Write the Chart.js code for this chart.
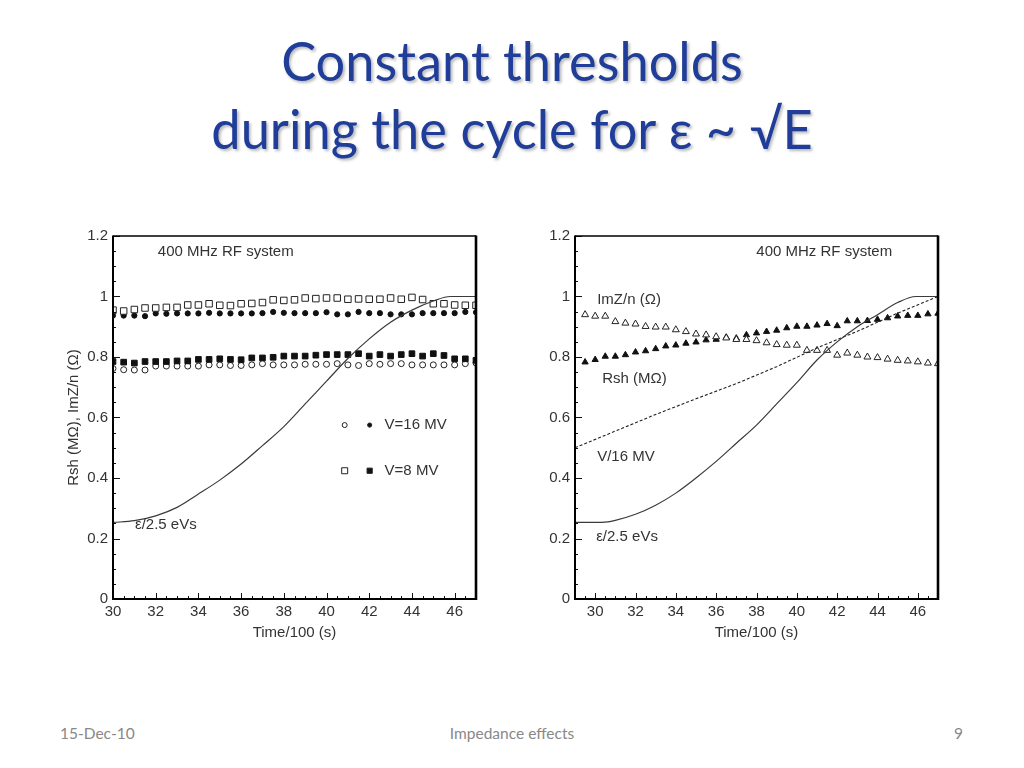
<!DOCTYPE html>
<html><head><meta charset="utf-8">
<script src="https://cdn.jsdelivr.net/npm/chart.js@4.4.1/dist/chart.umd.min.js"></script>
<style>
html,body{margin:0;padding:0;background:#fff;}
body{width:1024px;height:768px;position:relative;overflow:hidden;font-family:Lato,"Open Sans",sans-serif;}
.t{position:absolute;left:0;width:1024px;text-align:center;color:#203e99;font-size:54px;line-height:54px;white-space:nowrap;text-shadow:2px 2px 3px rgba(0,0,0,0.28);}
.t span{display:inline-block;transform:scaleX(0.97);}
.f{position:absolute;top:723px;font-size:15.5px;color:#888;line-height:20px;}
canvas{position:absolute;}
</style></head>
<body>
<div class="t" style="top:34px"><span>Constant thresholds</span></div>
<div class="t" style="top:102px"><span>during the cycle for ε ~ √E</span></div>
<div class="f" style="left:60px">15-Dec-10</div>
<div class="f" style="left:0;width:1024px;text-align:center">Impedance effects</div>
<div class="f" style="left:954px">9</div>
<canvas id="chartL" width="432" height="424" style="left:58px;top:222px"></canvas>
<canvas id="chartR" width="440" height="424" style="left:520px;top:222px"></canvas>
<script>
// ---------- data: left panel ----------
const timeL = [30,30.5,31,31.5,32,32.5,33,33.5,34,34.5,35,35.5,36,36.5,37,37.5,38,38.5,39,39.5,40,40.5,41,41.5,42,42.5,43,43.5,44,44.5,45,45.5,46,46.5,47];
const sqOpenL = [0.955,0.952,0.957,0.962,0.962,0.964,0.964,0.972,0.972,0.976,0.971,0.970,0.976,0.977,0.980,0.989,0.987,0.989,0.995,0.993,0.995,0.995,0.991,0.992,0.991,0.991,0.995,0.991,0.997,0.990,0.976,0.976,0.972,0.971,0.971];
const circFilledL = [0.937,0.937,0.937,0.935,0.944,0.943,0.944,0.944,0.944,0.946,0.944,0.944,0.944,0.944,0.945,0.949,0.946,0.945,0.945,0.945,0.948,0.941,0.941,0.949,0.945,0.945,0.941,0.941,0.941,0.945,0.945,0.945,0.945,0.949,0.948];
const sqFilledL = [0.785,0.783,0.780,0.785,0.785,0.785,0.787,0.787,0.792,0.792,0.794,0.792,0.791,0.797,0.797,0.799,0.803,0.803,0.803,0.806,0.808,0.808,0.808,0.811,0.803,0.808,0.803,0.808,0.811,0.803,0.811,0.805,0.794,0.794,0.789];
const circOpenL = [0.762,0.758,0.757,0.757,0.770,0.770,0.770,0.770,0.770,0.774,0.774,0.772,0.772,0.774,0.778,0.774,0.774,0.774,0.776,0.776,0.776,0.778,0.774,0.772,0.778,0.776,0.778,0.778,0.774,0.774,0.774,0.774,0.774,0.778,0.780];
const epsTimeL = [30,31,32,33,34,35,36,37,38,39,40,41,42,43,44,45,45.8,47];
const epsL = [0.253,0.259,0.275,0.303,0.347,0.393,0.446,0.507,0.570,0.645,0.720,0.795,0.860,0.915,0.955,0.985,1.0,1.0];

// ---------- data: right panel ----------
const timeR = [29.5,30,30.5,31,31.5,32,32.5,33,33.5,34,34.5,35,35.5,36,36.5,37,37.5,38,38.5,39,39.5,40,40.5,41,41.5,42,42.5,43,43.5,44,44.5,45,45.5,46,46.5,47];
const imzR = [0.940,0.935,0.935,0.917,0.912,0.909,0.901,0.899,0.899,0.890,0.884,0.876,0.873,0.867,0.863,0.858,0.858,0.854,0.847,0.841,0.839,0.839,0.822,0.822,0.822,0.806,0.813,0.806,0.800,0.798,0.793,0.789,0.787,0.784,0.780,0.778];
const rshR = [0.783,0.791,0.802,0.802,0.807,0.816,0.820,0.827,0.836,0.839,0.845,0.849,0.856,0.858,0.865,0.862,0.873,0.879,0.884,0.888,0.896,0.901,0.901,0.905,0.910,0.903,0.919,0.919,0.920,0.924,0.929,0.935,0.937,0.937,0.942,0.944];
const vTimeR = [29,31,33,35,37,39,41,43,45,47];
const vR = [0.500,0.555,0.610,0.662,0.712,0.768,0.830,0.885,0.945,1.000];
const epsTimeR = [29,30,30.5,31,32,33,34,35,36,37,38,39,40,41,42,43,44,45,45.9,47];
const epsR = [0.253,0.253,0.254,0.260,0.280,0.310,0.350,0.400,0.455,0.515,0.575,0.645,0.715,0.790,0.850,0.900,0.940,0.980,1.0,1.0];

// ---------- axes ----------
const xTicks = [30,32,34,36,38,40,42,44,46];
const yTicks = [0,0.2,0.4,0.6,0.8,1,1.2];
const yTickLabels = ['0','0.2','0.4','0.6','0.8','1','1.2'];

const FONT = '"Liberation Sans", Arial, sans-serif';
const TXT = '#333';

const pts = (xs, ys) => xs.map((v, i) => ({x: v, y: ys[i]}));

function drawMarker(ctx, style, px, py) {
  ctx.beginPath();
  if (style.shape === 'circle') ctx.arc(px, py, style.r, 0, Math.PI * 2);
  else ctx.rect(px - style.r, py - style.r, style.r * 2, style.r * 2);
  ctx.fillStyle = style.fill;
  ctx.fill();
  ctx.lineWidth = 1;
  ctx.strokeStyle = '#222';
  ctx.stroke();
}

const frame = {
  id: 'frame',
  afterDatasetsDraw(chart, args, o) {
    const {ctx, chartArea: a, scales: {x, y}} = chart;
    ctx.save();
    ctx.strokeStyle = '#111';
    ctx.lineWidth = 1;
    ctx.beginPath();
    for (let v = Math.ceil(x.min * 2) / 2; v <= x.max + 1e-9; v += 0.5) {
      const px = Math.round(x.getPixelForValue(v)) + 0.5;
      const major = Math.abs(v / 2 - Math.round(v / 2)) < 1e-9;
      ctx.moveTo(px, a.bottom);
      ctx.lineTo(px, a.bottom - (major ? 6 : 3));
    }
    for (let i = 0; i <= 24; i++) {
      const py = Math.round(y.getPixelForValue(i * 0.05)) + 0.5;
      ctx.moveTo(a.left, py);
      ctx.lineTo(a.left + (i % 4 === 0 ? 7 : 3), py);
    }
    ctx.stroke();
    ctx.strokeStyle = '#000';
    const seg = (w, x1, y1, x2, y2) => { ctx.lineWidth = w; ctx.beginPath(); ctx.moveTo(x1, y1); ctx.lineTo(x2, y2); ctx.stroke(); };
    seg(1.3, a.left, a.top, a.right, a.top);
    seg(2.6, a.right, a.top - 0.6, a.right, a.bottom + 1);
    seg(2, a.left, a.top - 0.6, a.left, a.bottom + 1);
    seg(2, a.left, a.bottom, a.right + 1, a.bottom);
    ctx.fillStyle = TXT;
    ctx.font = '15px ' + FONT;
    ctx.textBaseline = 'middle';
    ctx.textAlign = 'left';
    for (const t of o.labels) ctx.fillText(t.text, x.getPixelForValue(t.x), y.getPixelForValue(t.y));
    for (const k of (o.keys || [])) {
      const py = y.getPixelForValue(k.y);
      drawMarker(ctx, k.open, x.getPixelForValue(k.x1), py);
      drawMarker(ctx, k.filled, x.getPixelForValue(k.x2), py);
      ctx.fillStyle = TXT;
      ctx.fillText(k.text, x.getPixelForValue(k.x3), py);
    }
    ctx.restore();
  }
};

function scales(xmin, yWidth, yTitle) {
  return {
    x: {
      type: 'linear', min: xmin, max: 47,
      afterBuildTicks: s => { s.ticks = xTicks.map(v => ({value: v})); },
      afterFit: s => { s.height = 47; },
      grid: {display: false, drawTicks: false}, border: {display: false},
      ticks: {padding: 4, color: TXT, font: {size: 15, family: FONT}, maxRotation: 0, autoSkip: false, callback: v => String(v)},
      title: {display: true, text: 'Time/100 (s)', color: TXT, font: {size: 15, family: FONT}, padding: {top: 0, bottom: 4}}
    },
    y: {
      type: 'linear', min: 0, max: 1.2,
      afterBuildTicks: s => { s.ticks = yTicks.map(v => ({value: v})); },
      afterFit: s => { s.width = yWidth; },
      grid: {display: false, drawTicks: false}, border: {display: false},
      ticks: {padding: 5, color: TXT, font: {size: 15, family: FONT}, callback: (v, i) => yTickLabels[i]},
      title: {display: !!yTitle, text: yTitle || '', color: TXT, font: {size: 15, family: FONT}, padding: {top: 7, bottom: 0}}
    }
  };
}

const common = {
  responsive: false, animation: false, events: [],
  plugins: {legend: {display: false}, tooltip: {enabled: false}}
};

new Chart(document.getElementById('chartL'), {
  type: 'scatter',
  data: {datasets: [
    {label: 'ε/2.5 eVs', data: pts(epsTimeL, epsL), showLine: true, pointRadius: 0, borderColor: '#3a3a3a', borderWidth: 1.2, cubicInterpolationMode: 'monotone'},
    {label: 'V=8 MV (open)', data: pts(timeL, sqOpenL), pointStyle: 'rect', pointRadius: 4.6, backgroundColor: '#fff', borderColor: '#222', borderWidth: 1},
    {label: 'V=16 MV (filled)', data: pts(timeL, circFilledL), pointStyle: 'circle', pointRadius: 2.6, backgroundColor: '#111', borderColor: '#111', borderWidth: 1},
    {label: 'V=8 MV (filled)', data: pts(timeL, sqFilledL), pointStyle: 'rect', pointRadius: 4, backgroundColor: '#111', borderColor: '#111', borderWidth: 1},
    {label: 'V=16 MV (open)', data: pts(timeL, circOpenL), pointStyle: 'circle', pointRadius: 3, backgroundColor: '#fff', borderColor: '#222', borderWidth: 1}
  ]},
  options: Object.assign({}, common, {
    layout: {padding: {top: 6, right: 14, left: 0, bottom: 0}},
    scales: scales(30, 55, 'Rsh (MΩ), ImZ/n (Ω)'),
    plugins: Object.assign({}, common.plugins, {frame: {
      labels: [
        {text: '400 MHz RF system', x: 32.1, y: 1.147},
        {text: 'ε/2.5 eVs', x: 31.03, y: 0.245}
      ],
      keys: [
        {text: 'V=16 MV', x1: 40.85, x2: 42.02, x3: 42.72, y: 0.575, open: {shape: 'circle', r: 2.5, fill: '#fff'}, filled: {shape: 'circle', r: 2.1, fill: '#111'}},
        {text: 'V=8 MV', x1: 40.85, x2: 42.02, x3: 42.72, y: 0.424, open: {shape: 'rect', r: 3, fill: '#fff'}, filled: {shape: 'rect', r: 2.6, fill: '#111'}}
      ]
    }})
  }),
  plugins: [frame]
});

new Chart(document.getElementById('chartR'), {
  type: 'scatter',
  data: {datasets: [
    {label: 'ε/2.5 eVs', data: pts(epsTimeR, epsR), showLine: true, pointRadius: 0, borderColor: '#3a3a3a', borderWidth: 1.2, cubicInterpolationMode: 'monotone'},
    {label: 'V/16 MV', data: pts(vTimeR, vR), showLine: true, pointRadius: 0, borderColor: '#222', borderWidth: 1.1, borderDash: [3, 2]},
    {label: 'ImZ/n (Ω)', data: pts(timeR, imzR), pointStyle: 'triangle', pointRadius: 4, backgroundColor: '#fff', borderColor: '#222', borderWidth: 1},
    {label: 'Rsh (MΩ)', data: pts(timeR, rshR), pointStyle: 'triangle', pointRadius: 3.6, backgroundColor: '#111', borderColor: '#111', borderWidth: 1}
  ]},
  options: Object.assign({}, common, {
    layout: {padding: {top: 6, right: 22, left: 0, bottom: 0}},
    scales: scales(29, 55, ''),
    plugins: Object.assign({}, common.plugins, {frame: {
      labels: [
        {text: '400 MHz RF system', x: 37.99, y: 1.147},
        {text: 'ImZ/n (Ω)', x: 30.1, y: 0.988},
        {text: 'Rsh (MΩ)', x: 30.35, y: 0.727},
        {text: 'V/16 MV', x: 30.1, y: 0.469},
        {text: 'ε/2.5 eVs', x: 30.05, y: 0.205}
      ]
    }})
  }),
  plugins: [frame]
});
</script>
</body></html>
